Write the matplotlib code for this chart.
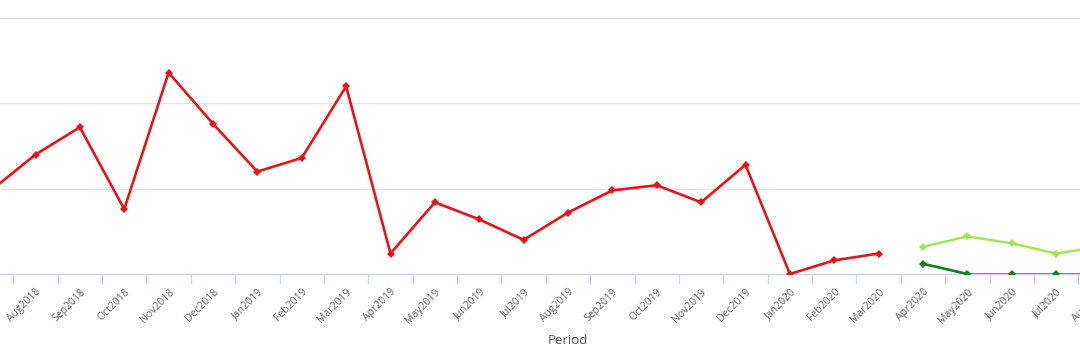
import matplotlib
matplotlib.use("Agg")
import matplotlib.pyplot as plt
import numpy as np

periods = ["Jul2018", "Aug2018", "Sep2018", "Oct2018", "Nov2018", "Dec2018",
           "Jan2019", "Feb2019", "Mar2019", "Apr2019", "May2019", "Jun2019",
           "Jul2019", "Aug2019", "Sep2019", "Oct2019", "Nov2019", "Dec2019",
           "Jan2020", "Feb2020", "Mar2020", "Apr2020", "May2020", "Jun2020",
           "Jul2020", "Aug2020"]

actual = [4.9, 7.0, 8.6, 3.8, 11.8, 8.8, 6.0, 6.8, 11.0, 1.2, 4.2, 3.2,
          2.0, 3.6, 4.9, 5.2, 4.2, 6.4, 0.0, 0.8, 1.2]
forecast_upper = [1.6, 2.2, 1.8, 1.2, 1.6]
forecast_lower = [0.6, 0.0, 0.0, 0.0, 0.0]

plt.rcParams['font.family'] = ['Open Sans', 'DejaVu Sans']

W, H = 1080, 352
fig = plt.figure(figsize=(W / 100, H / 100), dpi=100)
# axes deliberately extends past the figure edges (the reference is a crop)
left_px, right_px = -60, 1140
ax = fig.add_axes([left_px / W, 78 / H, (right_px - left_px) / W, 264 / H])

x_all = np.arange(len(periods))
n_act = len(actual)
x_act = x_all[:n_act]
x_fc = x_all[n_act:n_act + len(forecast_upper)]

ax.plot(x_act, actual, color='#e3151b', lw=1.9, marker='D', ms=4.5,
        markeredgewidth=0, zorder=3)
ax.plot(x_fc, forecast_upper, color='#9ee64f', lw=1.7, marker='D', ms=4.5,
        markeredgewidth=0, zorder=3)
ax.plot(x_fc[:2], forecast_lower[:2], color='#0f820f', lw=1.9, zorder=3)
ax.plot(x_fc[1:], forecast_lower[1:], color='#4ba046', lw=1.3, zorder=3)
ax.plot(x_fc, forecast_lower, ls='none', color='#0f820f', marker='D', ms=4.5,
        markeredgewidth=0, zorder=4)

ax.set_yticks([0, 5, 10, 15])
ax.yaxis.grid(True, color='#e6e6e6', lw=1)
ax.tick_params(axis='y', length=0, labelleft=False)

ax.set_xticks(x_all)
ax.set_xticklabels(periods, rotation=45, ha='right', rotation_mode='anchor',
                   fontsize=7.5, color='#666666')
ax.set_xticks(np.arange(-0.5, len(periods), 1), minor=True)
ax.tick_params(axis='x', which='major', length=0, pad=9)
ax.tick_params(axis='x', which='minor', length=7.5, color='#ccd6eb', width=1)

unit = 44.375
x0 = 0.20
ax.set_xlim(x0 + left_px / unit, x0 + right_px / unit)
ax.set_ylim(0, 15.47)

for s in ['top', 'right', 'left']:
    ax.spines[s].set_visible(False)
ax.spines['bottom'].set_color('#ccd6eb')
ax.spines['bottom'].set_linewidth(1)
ax.set_axisbelow(True)

fig.text(568 / W, 1 - 341 / H, "Period", ha='center', va='center',
         fontsize=9.5, color='#555555')

fig.savefig("out.png", dpi=100)
